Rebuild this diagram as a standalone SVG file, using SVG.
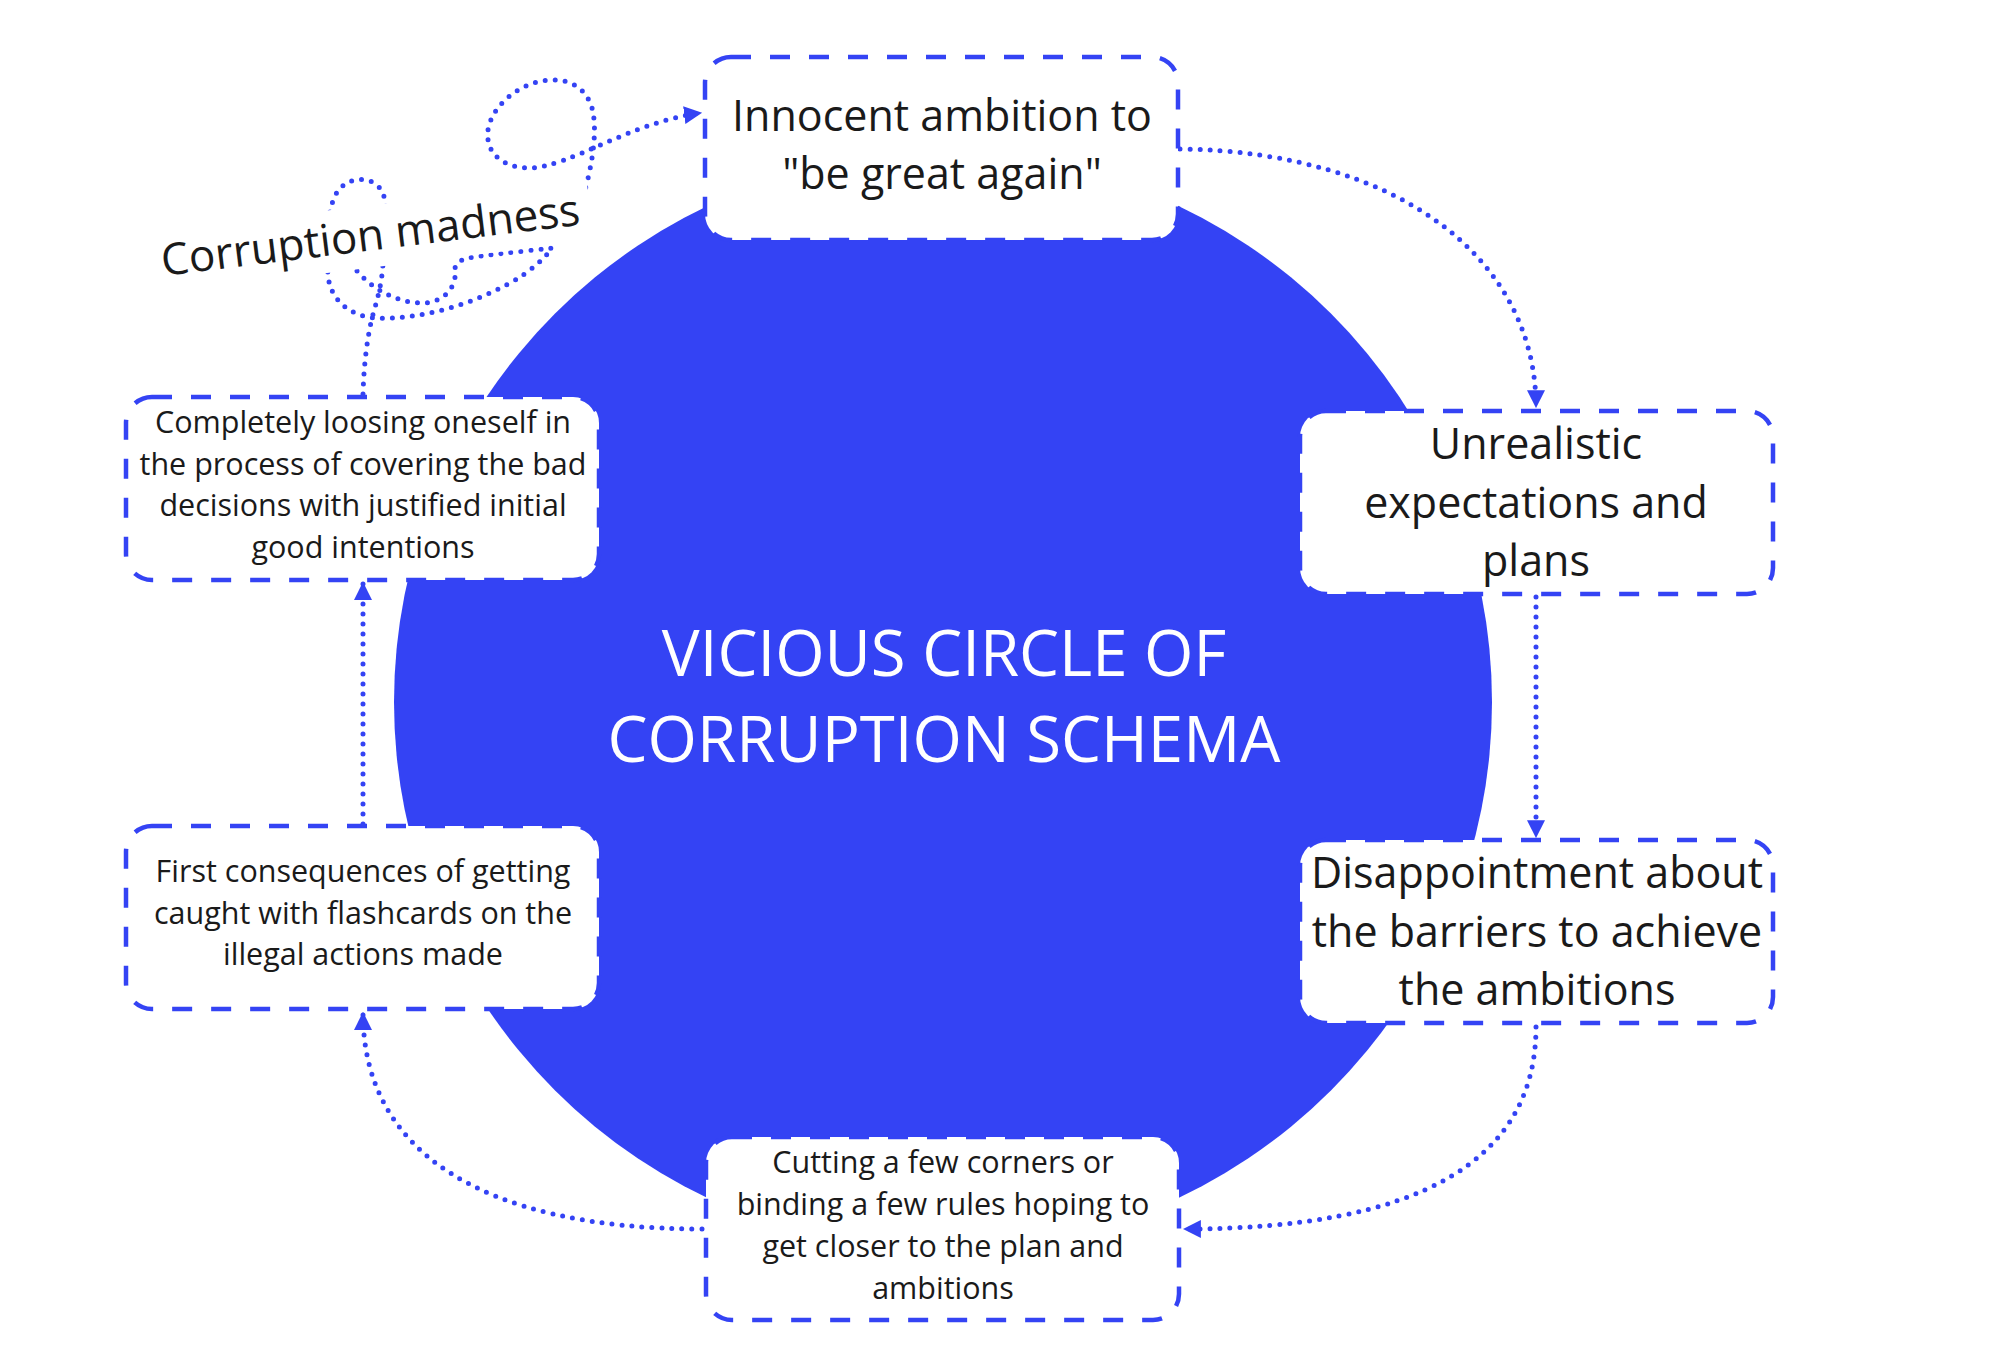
<svg xmlns="http://www.w3.org/2000/svg" width="1996" height="1366" viewBox="0 0 1996 1366">
  <defs>
    <marker id="arr" viewBox="0 0 16 16" refX="15" refY="8" markerWidth="18" markerHeight="18" markerUnits="userSpaceOnUse" orient="auto">
      <path d="M0,0 L16,8 L0,16 z" fill="#3443F4"/>
    </marker>
    <style>
      .box { fill: #ffffff; stroke: #3443F4; stroke-width: 4.5; stroke-dasharray: 20 19; }
      .big { font-family: "Open Sans", "Noto Sans", sans-serif; font-size: 43px; fill: #1a1a1a; text-anchor: middle; }
      .small { font-family: "Open Sans", "Noto Sans", sans-serif; font-size: 30.5px; fill: #1a1a1a; text-anchor: middle; }
      .title { font-family: "Open Sans", "Noto Sans", sans-serif; font-size: 63.5px; fill: #ffffff; text-anchor: middle; }
      .conn { fill: none; stroke: #3443F4; stroke-width: 5; stroke-dasharray: 0 10; stroke-linecap: round; marker-end: url(#arr); }
      .scribble { fill: none; stroke: #3443F4; stroke-width: 5; stroke-dasharray: 0 10; stroke-linecap: round; stroke-linejoin: round; marker-end: url(#arr); }
      .label { font-family: "Open Sans", "Noto Sans", sans-serif; font-size: 44px; fill: #1a1a1a; }
    </style>
  </defs>
  <rect x="0" y="0" width="1996" height="1366" fill="#ffffff"/>

  <g id="center-circle">
    <circle cx="943" cy="702" r="549" fill="#3443F4"/>
    <text class="title" x="944" y="676">VICIOUS CIRCLE OF</text>
    <text class="title" x="944" y="762">CORRUPTION SCHEMA</text>
  </g>

  <g id="connectors">
    <path class="conn" d="M1180,149 C1400,152 1536,260 1536,407"/>
    <path class="conn" d="M1536,597 L1536,837"/>
    <path class="conn" d="M1536,1027 C1536,1160 1420,1229 1184,1229"/>
    <path class="conn" d="M702,1229 C480,1229 363,1150 363,1013"/>
    <path class="conn" d="M363,824 L363,583"/>
    <path class="scribble" d="M363,394 C364,360 368,335 372,318 C377,300 382,285 383,262 C385,235 392,200 378,186 C366,175 345,178 336,194 C326,212 326,250 328,275 C330,300 350,316 375,318 C420,320 470,305 510,283 C530,272 545,258 552,248 C535,250 515,252 498,254 C470,257 458,258 455,268 C458,290 440,304 420,303 C395,302 368,288 350,262 L585,190 C592,165 598,130 592,108 C586,88 570,79 550,80 C520,82 492,105 488,130 C485,155 505,168 530,168 C570,167 630,122 701,113"/>
  </g>

  <g id="corruption-madness" transform="translate(163,276) rotate(-7)">
    <rect x="-8" y="-45" width="440" height="62" fill="#ffffff"/>
    <text class="label" x="0" y="0">Corruption madness</text>
  </g>

  <g id="node-innocent-ambition">
    <rect class="box" x="705" y="57" width="473" height="183" rx="26"/>
    <text class="big" x="942" y="131">Innocent ambition to</text>
    <text class="big" x="942" y="189">"be great again"</text>
  </g>

  <g id="node-unrealistic-expectations">
    <rect class="box" x="1300" y="411" width="473" height="183" rx="26"/>
    <text class="big" x="1536" y="459">Unrealistic</text>
    <text class="big" x="1536" y="518">expectations and</text>
    <text class="big" x="1536" y="576">plans</text>
  </g>

  <g id="node-disappointment">
    <rect class="box" x="1300" y="840" width="473" height="183" rx="26"/>
    <text class="big" x="1537" y="888">Disappointment about</text>
    <text class="big" x="1537" y="947">the barriers to achieve</text>
    <text class="big" x="1537" y="1005">the ambitions</text>
  </g>

  <g id="node-cutting-corners">
    <rect class="box" x="706" y="1137" width="473" height="183" rx="26"/>
    <text class="small" x="943" y="1173">Cutting a few corners or</text>
    <text class="small" x="943" y="1215">binding a few rules hoping to</text>
    <text class="small" x="943" y="1257">get closer to the plan and</text>
    <text class="small" x="943" y="1299">ambitions</text>
  </g>

  <g id="node-first-consequences">
    <rect class="box" x="126" y="826" width="473" height="183" rx="26"/>
    <text class="small" x="363" y="882">First consequences of getting</text>
    <text class="small" x="363" y="924">caught with flashcards on the</text>
    <text class="small" x="363" y="965">illegal actions made</text>
  </g>

  <g id="node-completely-loosing">
    <rect class="box" x="126" y="397" width="473" height="183" rx="26"/>
    <text class="small" x="363" y="433">Completely loosing oneself in</text>
    <text class="small" x="363" y="475">the process of covering the bad</text>
    <text class="small" x="363" y="516">decisions with justified initial</text>
    <text class="small" x="363" y="558">good intentions</text>
  </g>
</svg>
